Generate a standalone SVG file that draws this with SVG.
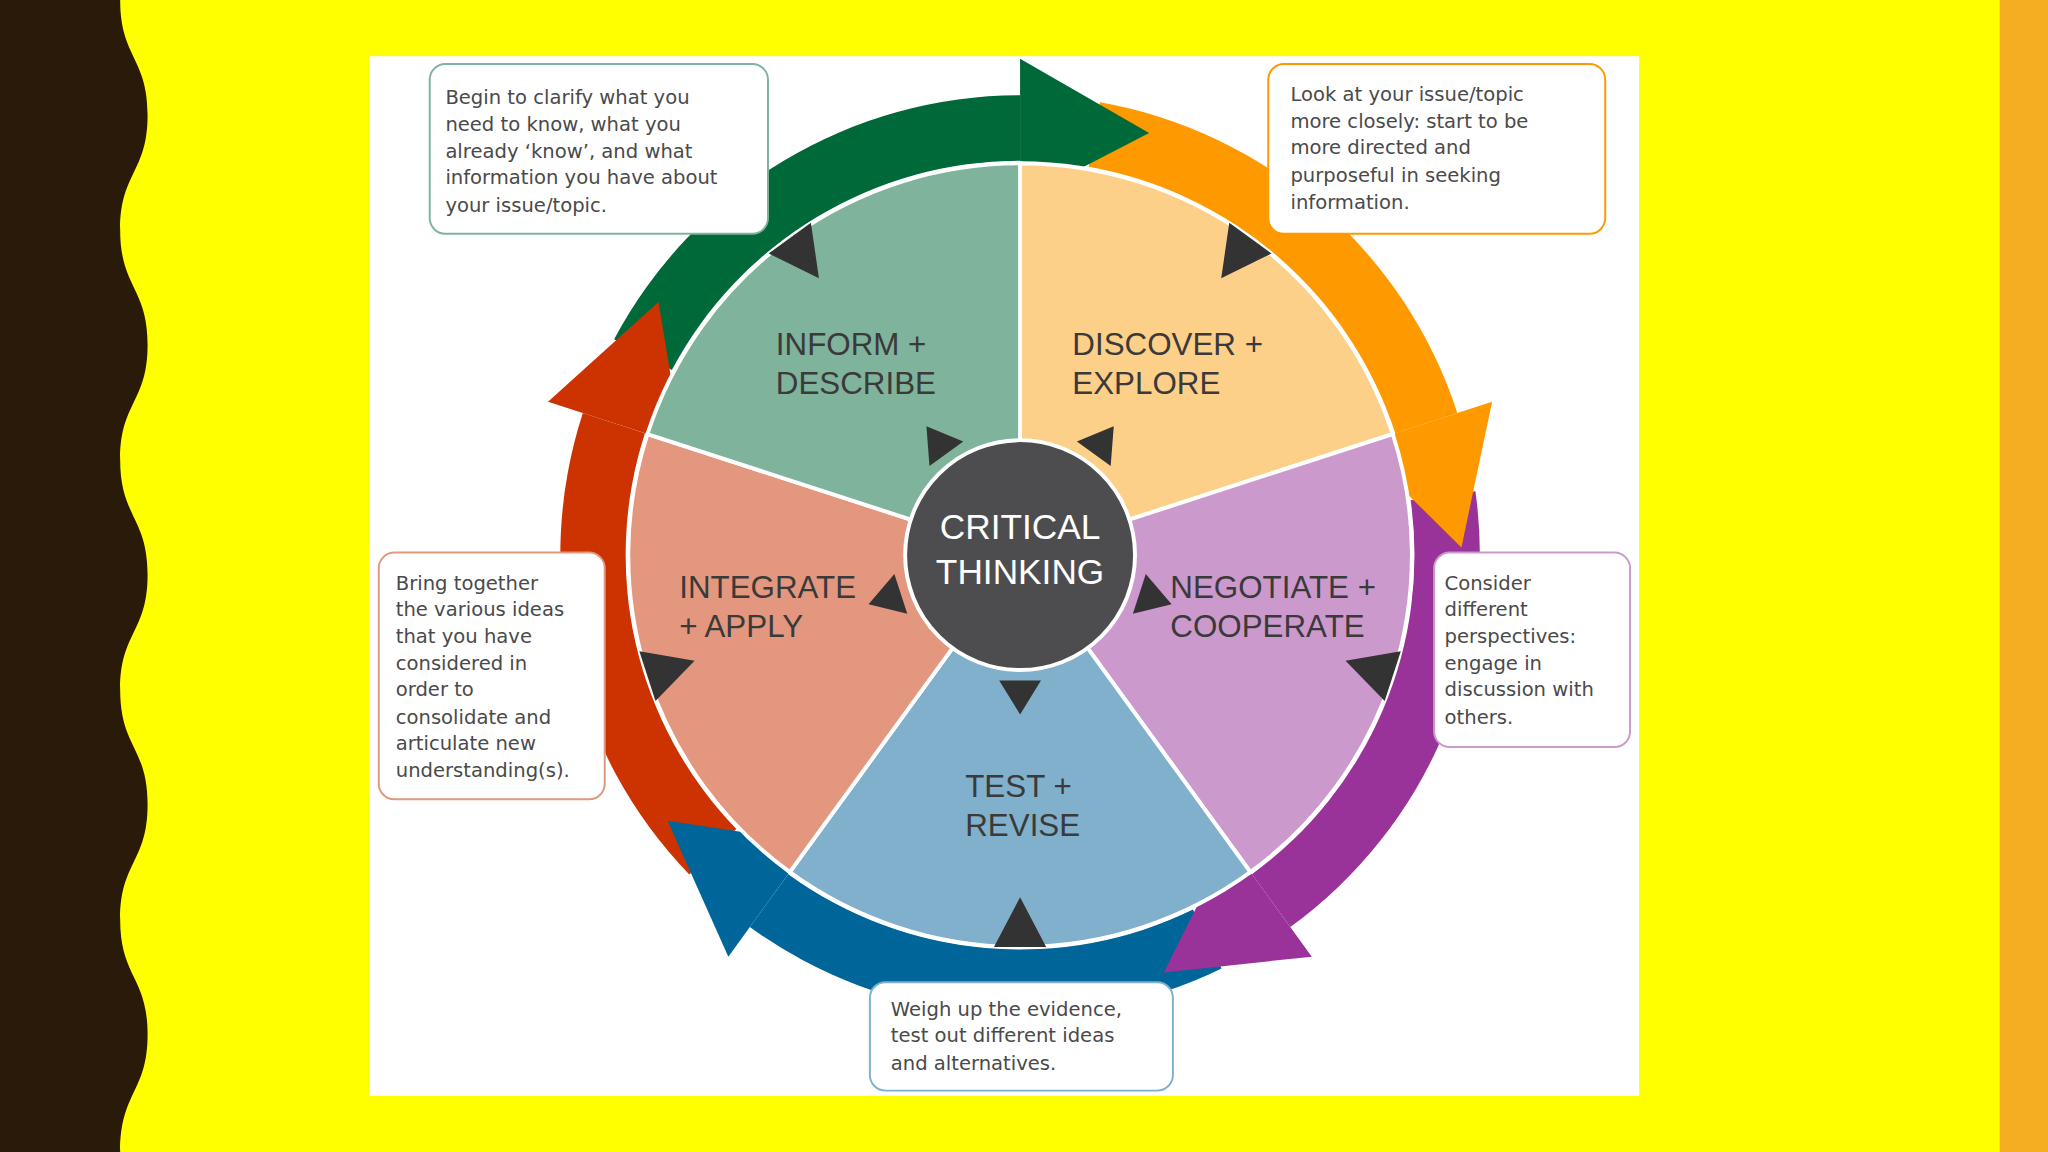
<svg xmlns="http://www.w3.org/2000/svg" width="2048" height="1152" viewBox="0 0 2048 1152">
<defs>
<style>
.box{fill:#fff;stroke-width:1.5}
.bt{font-family:"DejaVu Sans",Verdana,sans-serif;font-size:15px;fill:#4a4a4a}
.lab{font-family:"Liberation Sans",Arial,sans-serif;font-size:24px;fill:#3a3a3a}
.ct{font-family:"Liberation Sans",Arial,sans-serif;font-size:27px;fill:#fff;text-anchor:middle}
.sec{stroke:#fff;stroke-width:3}
.tri{fill:#333}
</style>
<path id="wedge" d="M0 0 L0 -300 A300 300 0 0 1 285.3 -92.7 Z"/>
<path id="body" d="M-310.8 -165.3 A352 352 0 0 1 0 -352 L0 -302 A302 302 0 0 0 -266.6 -141.8 Z"/>
<polygon id="head" points="0,-380 0,-272 98.8,-323.2"/>
<polygon id="itri" points="0,-122 -16,-96 16,-96"/>
<polygon id="otri" points="-20,-300 20,-300 0,-262"/>
</defs>
<g transform="scale(1.30612)">
<rect x="0" y="0" width="1568" height="882" fill="#ffff00"/>
<rect x="1531" y="0" width="37" height="882" fill="#f5ae22"/>
<path d="M0 0 L92 0 C92 44 113 44 113 88 C113 132 92 132 92 176 C92 220 113 220 113 264 C113 308 92 308 92 352 C92 396 113 396 113 440 C113 484 92 484 92 528 C92 572 113 572 113 616 C113 660 92 660 92 704 C92 748 113 748 113 792 C113 836 92 836 92 882 L0 882 Z" fill="#2a1a0a"/>
<rect x="283" y="43" width="972" height="796" fill="#fff"/>
<g id="wheel" transform="translate(781 425)">
<g id="connectors">
<use href="#body" fill="#00693a"/>
<use href="#body" fill="#ff9900" transform="rotate(72)"/>
<use href="#body" fill="#993399" transform="rotate(144)"/>
<use href="#body" fill="#006699" transform="rotate(216)"/>
<use href="#body" fill="#cc3300" transform="rotate(288)"/>
<use href="#head" fill="#00693a"/>
<use href="#head" fill="#ff9900" transform="rotate(72)"/>
<use href="#head" fill="#993399" transform="rotate(144)"/>
<use href="#head" fill="#006699" transform="rotate(216)"/>
<use href="#head" fill="#cc3300" transform="rotate(288)"/>
</g>
<g id="discover"><use href="#wedge" class="sec" fill="#fdd08a"/></g>
<g id="negotiate"><use href="#wedge" class="sec" fill="#cc99cc" transform="rotate(72)"/></g>
<g id="test"><use href="#wedge" class="sec" fill="#80b0cc" transform="rotate(144)"/></g>
<g id="integrate"><use href="#wedge" class="sec" fill="#e4977f" transform="rotate(216)"/></g>
<g id="inform"><use href="#wedge" class="sec" fill="#7fb39b" transform="rotate(288)"/></g>
<use href="#itri" class="tri" transform="rotate(36)"/>
<use href="#itri" class="tri" transform="rotate(108)"/>
<use href="#itri" class="tri" transform="rotate(180)"/>
<use href="#itri" class="tri" transform="rotate(252)"/>
<use href="#itri" class="tri" transform="rotate(324)"/>
<use href="#otri" class="tri" transform="rotate(36)"/>
<use href="#otri" class="tri" transform="rotate(108)"/>
<use href="#otri" class="tri" transform="rotate(180)"/>
<use href="#otri" class="tri" transform="rotate(252)"/>
<use href="#otri" class="tri" transform="rotate(324)"/>
<g id="center"><circle r="88" fill="#4d4d4f" stroke="#fff" stroke-width="3"/></g>
</g>
<text class="ct" x="781" y="413">CRITICAL</text>
<text class="ct" x="781" y="447">THINKING</text>
<text class="lab" x="594" y="272">INFORM +</text>
<text class="lab" x="594" y="302">DESCRIBE</text>
<text class="lab" x="821" y="272">DISCOVER +</text>
<text class="lab" x="821" y="302">EXPLORE</text>
<text class="lab" x="520" y="458">INTEGRATE</text>
<text class="lab" x="520" y="488">+ APPLY</text>
<text class="lab" x="896" y="458">NEGOTIATE +</text>
<text class="lab" x="896" y="488">COOPERATE</text>
<text class="lab" x="739" y="610">TEST +</text>
<text class="lab" x="739" y="640">REVISE</text>
<g id="note-inform">
<rect class="box" x="329" y="49" width="259" height="130" rx="12" stroke="#7fb39b"/>
<text class="bt" x="341" y="80">Begin to clarify what you</text>
<text class="bt" x="341" y="100">need to know, what you</text>
<text class="bt" x="341" y="121">already ‘know’, and what</text>
<text class="bt" x="341" y="141">information you have about</text>
<text class="bt" x="341" y="162">your issue/topic.</text>
</g>
<g id="note-discover">
<rect class="box" x="971" y="49" width="258" height="130" rx="12" stroke="#ff9900"/>
<text class="bt" x="988" y="77">Look at your issue/topic</text>
<text class="bt" x="988" y="98">more closely: start to be</text>
<text class="bt" x="988" y="118">more directed and</text>
<text class="bt" x="988" y="139">purposeful in seeking</text>
<text class="bt" x="988" y="160">information.</text>
</g>
<g id="note-integrate">
<rect class="box" x="290" y="423" width="173" height="189" rx="12" stroke="#e4977f"/>
<text class="bt" x="303" y="452">Bring together</text>
<text class="bt" x="303" y="472">the various ideas</text>
<text class="bt" x="303" y="492">that you have</text>
<text class="bt" x="303" y="513">considered in</text>
<text class="bt" x="303" y="533">order to</text>
<text class="bt" x="303" y="554">consolidate and</text>
<text class="bt" x="303" y="574">articulate new</text>
<text class="bt" x="303" y="595">understanding(s).</text>
</g>
<g id="note-negotiate">
<rect class="box" x="1098" y="423" width="150" height="149" rx="12" stroke="#cc99cc"/>
<text class="bt" x="1106" y="452">Consider</text>
<text class="bt" x="1106" y="472">different</text>
<text class="bt" x="1106" y="492">perspectives:</text>
<text class="bt" x="1106" y="513">engage in</text>
<text class="bt" x="1106" y="533">discussion with</text>
<text class="bt" x="1106" y="554">others.</text>
</g>
<g id="note-test">
<rect class="box" x="666" y="752" width="232" height="83" rx="12" stroke="#80b0cc"/>
<text class="bt" x="682" y="778">Weigh up the evidence,</text>
<text class="bt" x="682" y="798">test out different ideas</text>
<text class="bt" x="682" y="819">and alternatives.</text>
</g>
</g>
</svg>
